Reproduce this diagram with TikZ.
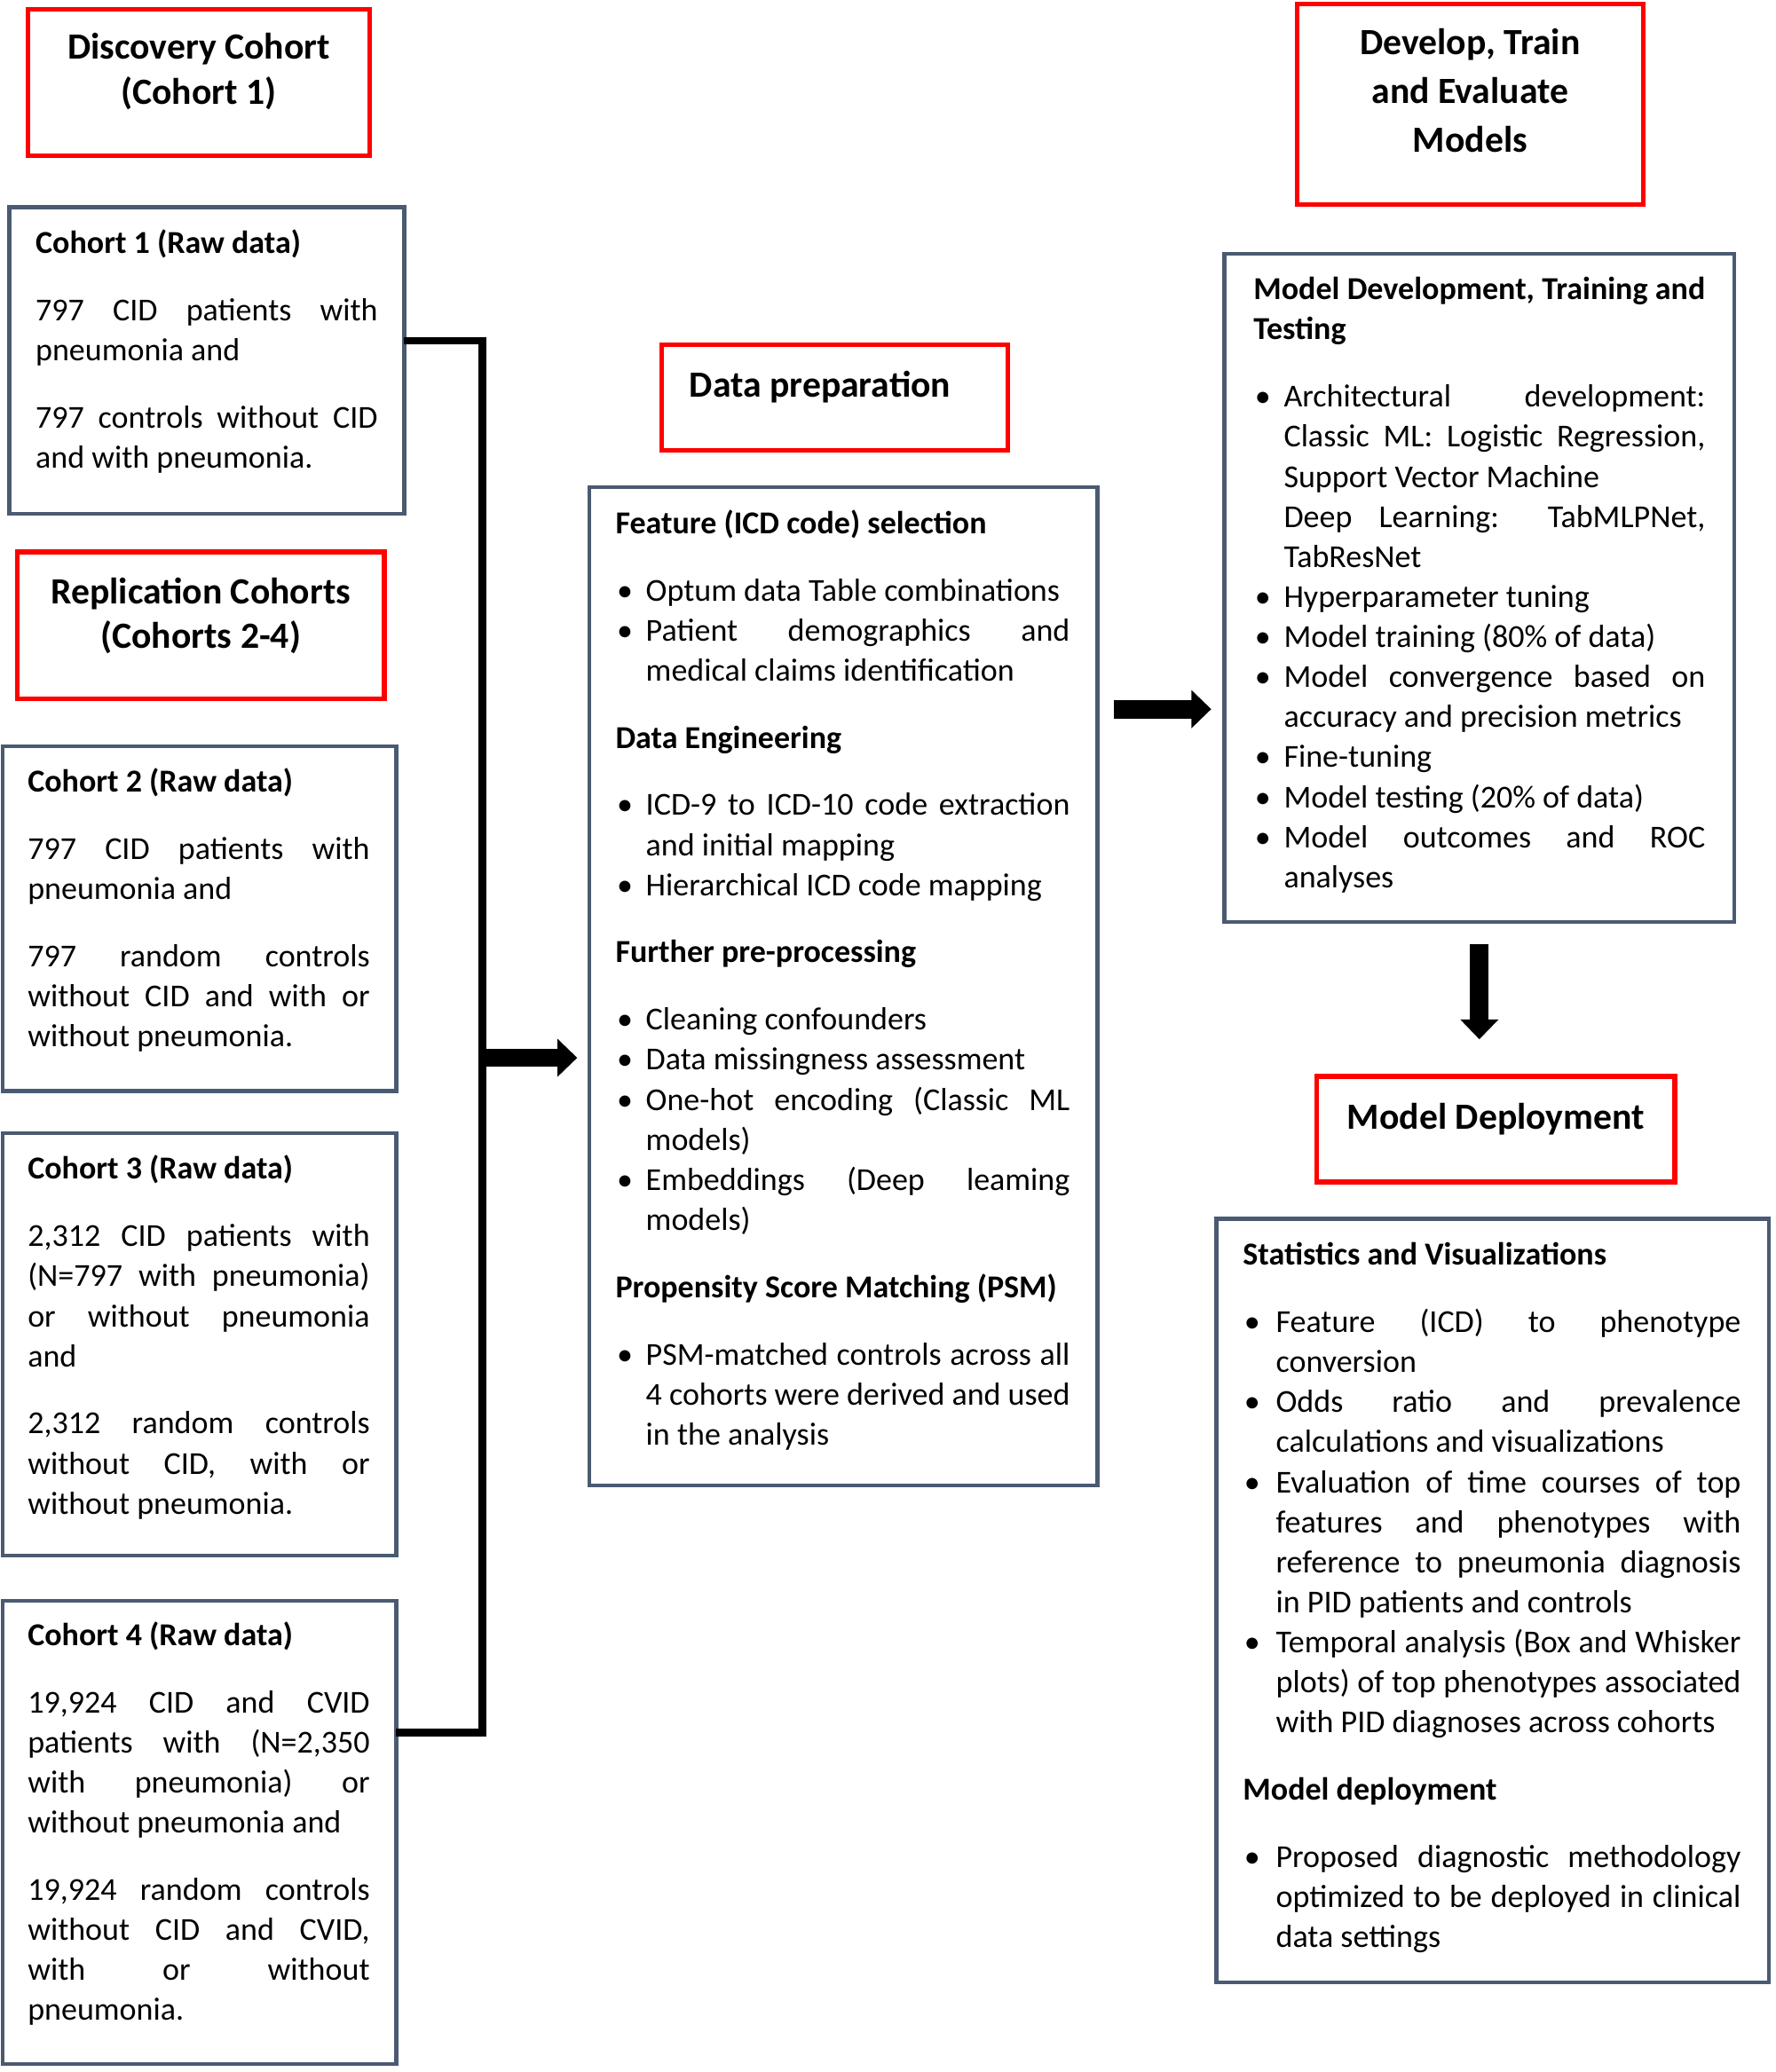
\documentclass[tikz,border=0pt]{standalone}
\usepackage{fontspec}
\setmainfont{Carlito}
\usetikzlibrary{arrows.meta}
\definecolor{boxgray}{HTML}{4A5A72}
\definecolor{boxred}{RGB}{255,0,0}
\newlength\xbwl
\setlength\xbwl{23pt}
\newcommand\xJ[1]{\hbox to\hsize{#1}}
\newcommand\xL[1]{\hbox{#1}}
\newcommand\xC[1]{\hbox to\hsize{\hfil#1\hfil}}
\newcommand\xBJ[1]{\hbox to\hsize{\hbox to\xbwl{\hskip1pt\textbullet\hfil}#1}}
\newcommand\xBL[1]{\hbox{\hbox to\xbwl{\hskip1pt\textbullet\hfil}#1}}
\newcommand\xCJ[1]{\hbox to\hsize{\hskip\xbwl #1}}
\newcommand\xCL[1]{\hbox{\hskip\xbwl #1}}
\newcommand\xG{\vskip20.6pt}
\hbadness=10000
\hfuzz=20pt
\tikzset{
  redbox/.style={draw=boxred, line width=3.5pt, inner sep=0pt, outer sep=0pt, rectangle},
  graybox/.style={draw=boxgray, line width=3pt, inner sep=0pt, outer sep=0pt, rectangle},
  txt/.style={anchor=base west, inner sep=0pt, outer sep=0pt, font=\fontsize{24.2}{30.33}\selectfont},
  ttl/.style={anchor=base, inner sep=0pt, outer sep=0pt, font=\fontsize{28}{34}\selectfont\bfseries},
  conn/.style={line width=6pt, black, line cap=butt, line join=miter},
  bigarrow/.style={line width=14pt, black, -{Triangle[width=28pt,length=15pt]}}
}
\begin{document}
\begin{tikzpicture}[x=1pt,y=-1pt]
\fill[white] (0,0) rectangle (1344,1569);
\useasboundingbox (0,0) rectangle (1344,1569);

% red title boxes
\node[redbox, minimum width=259, minimum height=111] (disc) at (150.5,62.5) {};
\node[redbox, minimum width=278, minimum height=111] (rep) at (152,473.5) {};
\node[redbox, minimum width=262, minimum height=80] (dpr) at (632,301) {};
\node[redbox, minimum width=262, minimum height=152] (dev) at (1113,79) {};
\node[redbox, minimum width=271, minimum height=80] (mdep) at (1132.5,855) {};

\node[ttl] (disct) at (150.5,45) {\vtop{\hsize=250pt \xC{Discovery Cohort}\xC{(Cohort 1)}}};
\node[ttl] (rept) at (152,457) {\vtop{\hsize=270pt \xC{Replication Cohorts}\xC{(Cohorts 2-4)}}};
\node[ttl, anchor=base west] (dprt) at (522,301) {Data preparation};
\node[ttl, font=\fontsize{28}{37}\selectfont\bfseries] (devt) at (1113,41) {\vtop{\hsize=250pt \xC{Develop, Train}\xC{and Evaluate}\xC{Models}}};
\node[ttl, anchor=base west] (mdept) at (1020,855) {Model Deployment};

% content boxes
\node[graybox, minimum width=299, minimum height=232] (c1) at (156.5,273) {};
\node[graybox, minimum width=298, minimum height=261] (c2) at (151,695.5) {};
\node[graybox, minimum width=298, minimum height=320] (c3) at (151,1018) {};
\node[graybox, minimum width=298, minimum height=351] (c4) at (151,1387.5) {};
\node[graybox, minimum width=385, minimum height=756] (dp) at (638.5,747) {};
\node[graybox, minimum width=386, minimum height=506] (md) at (1120,445) {};
\node[graybox, minimum width=418, minimum height=578] (st) at (1130,1212) {};

% cohort texts
\node[txt] (c1t) at (27,192) {\vtop{\hsize=259pt
\xL{\bfseries Cohort 1 (Raw data)}\xG
\xJ{797 CID patients with}
\xL{pneumonia and}\xG
\xJ{797 controls without CID}
\xL{and with pneumonia.}}};

\node[txt] (c2t) at (21,600) {\vtop{\hsize=259pt
\xL{\bfseries Cohort 2 (Raw data)}\xG
\xJ{797 CID patients with}
\xL{pneumonia and}\xG
\xJ{797 random controls}
\xJ{without CID and with or}
\xL{without pneumonia.}}};

\node[txt] (c3t) at (21,893) {\vtop{\hsize=259pt
\xL{\bfseries Cohort 3 (Raw data)}\xG
\xJ{2,312 CID patients with}
\xJ{(N=797 with pneumonia)}
\xJ{or without pneumonia}
\xL{and}\xG
\xJ{2,312 random controls}
\xJ{without CID, with or}
\xL{without pneumonia.}}};

\node[txt] (c4t) at (21,1246) {\vtop{\hsize=259pt
\xL{\bfseries Cohort 4 (Raw data)}\xG
\xJ{19,924 CID and CVID}
\xJ{patients with (N=2,350}
\xJ{with pneumonia) or}
\xL{without pneumonia and}\xG
\xJ{19,924 random controls}
\xJ{without CID and CVID,}
\xJ{with or without}
\xL{pneumonia.}}};

% data preparation text
\node[txt] (dpt) at (466,404) {\vtop{\hsize=344pt \setlength\xbwl{23pt}
\xL{\bfseries Feature (ICD code) selection}\xG
\xBL{Optum data Table combinations}
\xBJ{Patient demographics and}
\xCL{medical claims identification}\xG
\xL{\bfseries Data Engineering}\xG
\xBJ{ICD-9 to ICD-10 code extraction}
\xCL{and initial mapping}
\xBL{Hierarchical ICD code mapping}\xG
\xL{\bfseries Further pre-processing}\xG
\xBL{Cleaning confounders}
\xBL{Data missingness assessment}
\xBJ{One-hot encoding (Classic ML}
\xCL{models)}
\xBJ{Embeddings (Deep leaming}
\xCL{models)}\xG
\xL{\bfseries Propensity Score Matching (PSM)}\xG
\xBJ{PSM-matched controls across all}
\xCJ{4 cohorts were derived and used}
\xCL{in the analysis}}};

% model development text
\node[txt] (mdt) at (949,227) {\vtop{\hsize=342pt \setlength\xbwl{23pt}
\xJ{\bfseries Model Development, Training and}
\xL{\bfseries Testing}\xG
\xBJ{Architectural development:}
\xCJ{Classic ML: Logistic Regression,}
\xCL{Support Vector Machine}
\xCJ{Deep Learning: TabMLPNet,}
\xCL{TabResNet}
\xBL{Hyperparameter tuning}
\xBL{Model training (80\% of data)}
\xBJ{Model convergence based on}
\xCL{accuracy and precision metrics}
\xBL{Fine-tuning}
\xBL{Model testing (20\% of data)}
\xBJ{Model outcomes and ROC}
\xCL{analyses}}};

% statistics text
\node[txt] (stt) at (941,958) {\vtop{\hsize=377pt \setlength\xbwl{25pt}
\xL{\bfseries Statistics and Visualizations}\xG
\xBJ{Feature (ICD) to phenotype}
\xCL{conversion}
\xBJ{Odds ratio and prevalence}
\xCL{calculations and visualizations}
\xBJ{Evaluation of time courses of top}
\xCJ{features and phenotypes with}
\xCJ{reference to pneumonia diagnosis}
\xCL{in PID patients and controls}
\xBJ{Temporal analysis (Box and Whisker}
\xCJ{plots) of top phenotypes associated}
\xCL{with PID diagnoses across cohorts}\xG
\xL{\bfseries Model deployment}\xG
\xBJ{Proposed diagnostic methodology}
\xCJ{optimized to be deployed in clinical}
\xCL{data settings}}};

% connectors
\coordinate (j1) at (365,258);
\coordinate (j4) at (365,1312);
\coordinate (j2) at (365,801);
\coordinate (a1) at (0,537);
\draw[conn] (c1.east |- j1) -- (j1) -- (j4) -- (c4.east |- j4);
\draw[bigarrow, shorten >=9pt] (j2) -- (dp.west |- j2);
\draw[bigarrow, shorten <=12pt, shorten >=10pt] (dp.east |- a1) -- (md.west |- a1);
\draw[bigarrow, shorten <=17pt, shorten >=28pt] (md.south) -- (md.south |- mdep.north);
\end{tikzpicture}
\end{document}
